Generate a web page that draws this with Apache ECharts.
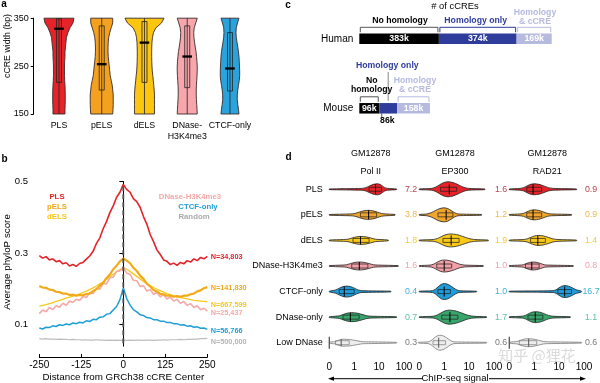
<!DOCTYPE html>
<html><head><meta charset="utf-8">
<script src="https://cdn.jsdelivr.net/npm/echarts@6/dist/echarts.min.js"></script>
<style>html,body{margin:0;padding:0;background:#fff}#chart{width:600px;height:383px}</style>
</head><body><div id="chart"></div>
<script>
// ---------- Panel a: cCRE width violins ----------
const aCategories = ['PLS', 'pELS', 'dELS', 'DNase-\nH3K4me3', 'CTCF-only'];
const aTicks = [150, 250, 350];
const aLevels = [350,340,330,320,310,300,290,280,270,260,250,240,230,220,210,200,190,180,170,160,150];
const aDensityPLS   = [15,14,11,9,7.5,7,6.5,6,6,5.7,5.5,5.5,5.5,5.7,6,6.2,6.3,6.3,6.2,6,6];
const aDensityPELS  = [11,11,9.5,8,7,6.5,6.3,6.3,6.5,7,7.5,8,8.5,9.5,10.5,11,11.5,11.5,11.5,11.3,11];
const aDensityDELS  = [19.5,17,11.5,9,8,7.5,7.3,7.2,7.2,7.3,7.5,7.8,8.3,8.8,9.3,9.7,10,10,10,10,10];
const aDensityDNase = [10,8.5,7,6.5,6.7,7.3,8,8.8,9.3,9.7,10,10,9.8,9.5,9.2,9,9,9.2,9.5,9.8,10];
const aDensityCTCF  = [9,7.5,6.3,6,6.3,7,7.8,8.5,9,9.3,9.5,9.7,9.7,9.3,8.5,7.8,7.3,7.3,7.8,8.5,9];
const aBoxLow  = [216, 200, 216, 205, 198];
const aBoxHigh = [349, 334, 343, 334, 320];
const aMedian  = [328, 254, 299, 270, 245];

// ---------- Panel b: phyloP profiles ----------
const bTicksY = [0.1, 0.3, 0.5];
const bDistance = [-250,-240,-230,-220,-210,-200,-190,-180,-170,-160,-150,-140,-130,-120,-110,-100,-90,-80,-70,-60,-50,-40,-30,-20,-10,0,10,20,30,40,50,60,70,80,90,100,110,120,130,140,150,160,170,180,190,200,210,220,230,240,250];
const bPLS = [0.293,0.286,0.290,0.281,0.284,0.276,0.279,0.270,0.273,0.264,0.268,0.263,0.271,0.274,0.283,0.292,0.305,0.327,0.342,0.368,0.388,0.413,0.432,0.456,0.470,0.492,0.478,0.470,0.452,0.444,0.428,0.402,0.381,0.352,0.332,0.309,0.296,0.281,0.277,0.268,0.272,0.266,0.274,0.270,0.279,0.275,0.284,0.279,0.288,0.284,0.291];
const bPELS = [0.208,0.204,0.203,0.198,0.197,0.192,0.191,0.187,0.187,0.183,0.184,0.181,0.183,0.182,0.186,0.187,0.194,0.199,0.209,0.217,0.230,0.240,0.255,0.265,0.277,0.285,0.279,0.272,0.259,0.250,0.237,0.228,0.215,0.207,0.197,0.193,0.186,0.185,0.181,0.181,0.178,0.180,0.178,0.181,0.181,0.185,0.187,0.193,0.196,0.202,0.205];
const bDELS = [0.152,0.154,0.156,0.159,0.162,0.165,0.168,0.171,0.174,0.177,0.180,0.183,0.186,0.190,0.194,0.198,0.203,0.208,0.214,0.220,0.227,0.234,0.241,0.248,0.254,0.258,0.255,0.249,0.242,0.235,0.228,0.221,0.215,0.209,0.204,0.199,0.195,0.191,0.187,0.184,0.181,0.178,0.176,0.174,0.172,0.170,0.168,0.167,0.166,0.165,0.164];
const bDNase = [0.131,0.141,0.136,0.148,0.142,0.153,0.149,0.160,0.154,0.166,0.162,0.171,0.168,0.179,0.176,0.190,0.187,0.202,0.199,0.216,0.214,0.231,0.233,0.249,0.250,0.260,0.244,0.241,0.224,0.223,0.207,0.209,0.194,0.198,0.185,0.190,0.178,0.184,0.172,0.177,0.166,0.171,0.160,0.165,0.154,0.159,0.148,0.153,0.142,0.146,0.138];
const bCTCF = [0.091,0.088,0.093,0.092,0.097,0.095,0.100,0.098,0.102,0.100,0.105,0.103,0.107,0.105,0.111,0.109,0.115,0.114,0.121,0.122,0.129,0.131,0.141,0.151,0.170,0.203,0.173,0.155,0.142,0.136,0.128,0.126,0.120,0.119,0.114,0.114,0.110,0.110,0.106,0.106,0.103,0.103,0.099,0.100,0.096,0.097,0.093,0.094,0.090,0.091,0.087];
const bRandom = [0.061,0.060,0.061,0.060,0.060,0.059,0.060,0.059,0.059,0.058,0.059,0.058,0.058,0.057,0.058,0.057,0.057,0.058,0.057,0.057,0.056,0.057,0.056,0.057,0.056,0.057,0.056,0.057,0.056,0.057,0.057,0.056,0.057,0.057,0.056,0.057,0.057,0.058,0.057,0.058,0.058,0.058,0.059,0.058,0.059,0.059,0.060,0.060,0.061,0.061,0.062];
const bCounts = ['N=34,803', 'N=141,830', 'N=667,599', 'N=25,437', 'N=56,766', 'N=500,000'];
const bNames = ['PLS', 'pELS', 'dELS', 'DNase-H3K4me3', 'CTCF-only', 'Random'];

// ---------- Panel c: homology bars (thousands) ----------
const cSpecies = ['Human', 'Mouse'];
const cNoHomology = [383, 96];
const cHomologyOnly = [374, 86];
const cHomologyCCRE = [169, 158];

// ---------- Panel d: ChIP-seq signal violins (log10 units; "0" drawn at -1) ----------
const dRows = ['PLS', 'pELS', 'dELS', 'DNase-H3K4me3', 'CTCF-only', 'DNase-only', 'Low DNase'];
const dAssays = ['Pol II', 'EP300', 'RAD21'];
const dCell = 'GM12878';
const dTickLabels = ['0', '1', '10', '100'];
const dPolMedian   = [7.2, 3.8, 1.8, 1.6, 0.4, 0.7, 0.3];
const dEP300Median = [1.6, 1.2, 1.9, 1.0, 1.0, 1.7, 0.6];
const dRAD21Median = [0.9, 0.9, 1.4, 0.8, 16.7, 1.1, 0.6];
// [tail start, body start, mode, body end, tail end, peak density, zero spike]
const dPolShape = [[-1,0.31,0.93,1.33,1.7,5.5,0],[-1,-0.16,0.57,1.28,1.64,4.5,0],[-1,-0.43,0.28,1.04,1.37,4,0],[-1,-0.49,0.21,0.97,1.77,4,0],[-1,-0.89,-0.3,0.31,1.47,5.5,0],[-1,-0.76,-0.1,0.71,1.7,4.5,0],[-1,-0.89,-0.44,0.57,1.7,3.5,6]];
const dEP300Shape = [[-1,-0.5,0.15,0.96,1.63,7.5,0],[-1,-0.7,0.0,0.56,1.5,7,0],[-1,-0.44,0.25,1.23,1.77,6.5,0],[-1,-0.57,0.0,0.83,1.57,6,0],[-1,-0.47,0.0,0.6,1.3,8,0],[-1,-0.44,0.2,1.16,1.7,7,0],[-1.03,-0.64,-0.17,0.39,1.7,7.5,0]];
const dRAD21Shape = [[-1,-0.57,0.0,0.76,1.7,5.5,0],[-1,-0.57,0.0,0.7,1.5,5,0],[-1,-0.44,0.17,0.96,1.7,5,0],[-1,-0.57,-0.05,0.57,1.57,4,0],[-1,0.76,1.23,1.84,1.9,6,0],[-1,-0.5,0.05,0.76,1.45,5.5,0],[-1,-0.84,-0.24,0.57,1.9,4,6]];
const dPolBox   = [[0.6,1.1],[0.25,0.9],[-0.05,0.6],[-0.1,0.55],[-0.6,0.0],[-0.45,0.2],[-0.75,-0.2]];
const dEP300Box = [[-0.15,0.5],[-0.25,0.35],[-0.05,0.6],[-0.3,0.3],[-0.25,0.25],[-0.1,0.55],[-0.45,0.05]];
const dRAD21Box = [[-0.3,0.3],[-0.3,0.3],[-0.15,0.45],[-0.35,0.2],[0.95,1.5],[-0.25,0.35],[-0.6,0.1]];

// ---------- styles ----------
const FONT = "'Liberation Sans', Arial, Helvetica, sans-serif";
const aColors = ['#e52329', '#f4a11f', '#fcc50f', '#f7a6ac', '#2aa3dd'];
const bColors = ['#e3242b', '#f2a91a', '#f7c81c', '#f2a9a8', '#1f9fd6', '#bdbdbd'];
const cColors = ['#000000', '#2e3c9c', '#b6badf'];
const dFill = ['#e52329', '#f0a52e', '#f8c81a', '#f0a0a6', '#1f9bd8', '#38a66c', '#eeeeee'];
const dText = ['#b9434c', '#efb650', '#f2c93d', '#eda3ab', '#3db0d8', '#5fc2a5', '#7a7a7a'];

const aWidths = [aDensityPLS, aDensityPELS, aDensityDELS, aDensityDNase, aDensityCTCF];
const dMedians = [dPolMedian, dEP300Median, dRAD21Median];
const dShapes = [dPolShape, dEP300Shape, dRAD21Shape];
const dBoxes = [dPolBox, dEP300Box, dRAD21Box];

function renderA(params, api) {
  const i = params.dataIndex;
  const prof = aWidths[i];
  const band = api.coord([1, 250])[0] - api.coord([0, 250])[0];
  const k = band / 42.75;
  const R = [], L = [];
  for (let j = 0; j < aLevels.length; j++) {
    const p = api.coord([i, aLevels[j]]);
    R.push([p[0] + prof[j] * k, p[1]]);
    L.unshift([p[0] - prof[j] * k, p[1]]);
  }
  const cx = api.coord([i, 250])[0];
  const top = api.coord([i, aLevels[0]])[1];
  const bot = api.coord([i, aLevels[aLevels.length - 1]])[1];
  const bh = api.coord([i, aBoxHigh[i]])[1];
  const bl = api.coord([i, aBoxLow[i]])[1];
  const md = api.coord([i, aMedian[i]])[1];
  return {type: 'group', children: [
    {type: 'polygon', shape: {points: R.concat(L)}, style: {fill: aColors[i], stroke: '#3b2a2a', lineWidth: 0.9}},
    {type: 'line', shape: {x1: cx, y1: top, x2: cx, y2: bot}, style: {stroke: '#222', lineWidth: 0.8}},
    {type: 'rect', shape: {x: cx - 2.5, y: bh, width: 5, height: bl - bh}, style: {fill: 'none', stroke: '#222', lineWidth: 0.8}},
    {type: 'line', shape: {x1: cx - 4.8, y1: md, x2: cx + 4.8, y2: md}, style: {stroke: '#000', lineWidth: 2.3}}
  ]};
}

function makeRenderD(col) {
  return function (params, api) {
    const r = params.dataIndex;
    const s = dShapes[col][r];
    const q = dBoxes[col][r];
    const val = dMedians[col][r];
    const med = Math.log10(val);
    const X = v => api.coord([v, r])[0];
    const yc = api.coord([0, r])[1];
    const h = s[5];
    const lo = s[1], pk = s[2], hi = s[3];
    const xs = [s[0], lo, lo + (pk - lo) * 0.25, lo + (pk - lo) * 0.5, lo + (pk - lo) * 0.75, pk,
                pk + (hi - pk) * 0.25, pk + (hi - pk) * 0.5, pk + (hi - pk) * 0.75, hi, s[4]];
    const hs = [0.35, 0.9, 0.3 * h, 0.62 * h, 0.9 * h, h, 0.9 * h, 0.62 * h, 0.3 * h, 0.9, 0.35];
    const top = [], bot = [];
    for (let j = 0; j < xs.length; j++) {
      const x = X(xs[j]);
      top.push([x, yc - hs[j]]);
      bot.unshift([x, yc + hs[j]]);
    }
    const low = r === dRows.length - 1;
    const stroke = low ? '#777' : '#1e1e1e';
    const children = [
      {type: 'polygon', shape: {points: top.concat(bot), smooth: 0.25}, style: {fill: dFill[r], stroke: stroke, lineWidth: 0.8}},
      {type: 'rect', shape: {x: X(q[0]), y: yc - 2, width: X(q[1]) - X(q[0]), height: 4}, style: {fill: 'none', stroke: stroke, lineWidth: 0.7}},
      {type: 'line', shape: {x1: X(med), y1: yc - Math.min(h, 5), x2: X(med), y2: yc + Math.min(h, 5)}, style: {stroke: low ? '#555' : '#000', lineWidth: 1}},
      {type: 'text', x: X(2) + 7, y: yc, style: {text: val.toFixed(1), fill: dText[r], align: 'center', verticalAlign: 'middle', fontSize: 8.8, fontFamily: FONT}}
    ];
    if (s[6] > 0) {
      children.push({type: 'line', shape: {x1: X(-1), y1: yc - s[6], x2: X(-1), y2: yc + s[6]}, style: {stroke: '#555', lineWidth: 1.3}});
    }
    return {type: 'group', children: children};
  };
}

const cBracketData = [[0, 0, 383], [0, 383, 757], [0, 757, 926], [1, 0, 96], [1, 182, 340]];
const cBracketStyle = ['#555', cColors[1], cColors[2], '#555', cColors[2]];
function renderBrackets(params, api) {
  const d = cBracketData[params.dataIndex];
  const a = api.coord([d[1], d[0]]);
  const b = api.coord([d[2], d[0]]);
  const barTop = a[1] - 5.5;
  const y1 = barTop - 6, y2 = barTop - 1;
  const x1 = a[0] + 1, x2 = b[0] - 1;
  const ch = [{type: 'polyline', shape: {points: [[x1, y2], [x1, y1], [x2, y1], [x2, y2]]}, style: {stroke: cBracketStyle[params.dataIndex], lineWidth: 1, fill: 'none'}}];
  if (params.dataIndex === 4) {
    const m = api.coord([cNoHomology[1] + cHomologyOnly[1] / 2, 1]);
    ch.push({type: 'line', shape: {x1: m[0], y1: 72, x2: m[0], y2: barTop - 2}, style: {stroke: '#888', lineWidth: 1}});
    const t = api.coord([108, 1]);
    ch.push({type: 'line', shape: {x1: t[0], y1: t[1] + 5, x2: t[0], y2: t[1] + 9}, style: {stroke: '#333', lineWidth: 0.8}});
  }
  return {type: 'group', children: ch};
}

function txt(x, y, text, size, color, weight, align, rot) {
  return {type: 'text', x: x, y: y, rotation: rot || 0, z: 100,
    style: {text: text, fontSize: size, fill: color, fontWeight: weight || 'normal', fontFamily: FONT,
      align: align || 'center', verticalAlign: 'middle'}};
}

const chart = echarts.init(document.getElementById('chart'), null, {renderer: 'canvas'});
const axisTxt = {color: '#000', fontFamily: FONT};
const option = {
  animation: false,
  backgroundColor: '#fff',
  textStyle: {fontFamily: FONT},
  grid: [
    {left: 37.6, top: 18.2, width: 213.75, height: 95.8},
    {left: 39.3, top: 181.5, width: 168, height: 167},
    {left: 359.3, top: 4.05, width: 207.8, height: 139},
    {left: 329.3, top: 176.5, width: 74.7, height: 179},
    {left: 419.3, top: 176.5, width: 74.7, height: 179},
    {left: 509.3, top: 176.5, width: 74.7, height: 179}
  ],
  xAxis: [
    {gridIndex: 0, type: 'category', data: aCategories, axisLine: {show: false}, axisTick: {show: false},
      axisLabel: Object.assign({fontSize: 8.8, margin: 6, lineHeight: 11, interval: 0}, axisTxt), splitLine: {show: false}},
    {gridIndex: 1, type: 'value', min: -250, max: 250, interval: 125, offset: 10.8,
      axisLine: {lineStyle: {color: '#000', width: 1}}, axisTick: {inside: true, length: 3, lineStyle: {color: '#000'}},
      axisLabel: Object.assign({fontSize: 10, margin: 3}, axisTxt), splitLine: {show: false},
      name: 'Distance from GRCh38 cCRE Center', nameLocation: 'middle', nameGap: 15,
      nameTextStyle: {fontSize: 9.8, color: '#000', fontFamily: FONT, verticalAlign: 'top'}},
    {gridIndex: 2, type: 'value', min: 0, max: 1000, show: false},
    ...[3, 4, 5].map(g => ({gridIndex: g, type: 'value', min: -1, max: 2, interval: 1, offset: 3.8,
      axisLine: {lineStyle: {color: '#000', width: 1}}, axisTick: {inside: true, length: 4, lineStyle: {color: '#000'}},
      axisLabel: Object.assign({fontSize: 10, margin: 3, formatter: v => dTickLabels[Math.round(v) + 1]}, axisTxt),
      splitLine: {show: false}}))
  ],
  yAxis: [
    {gridIndex: 0, type: 'value', min: 150, max: 350, offset: 3.9,
      axisLine: {show: true, lineStyle: {color: '#000', width: 1}},
      axisTick: {show: true, length: 3, customValues: aTicks, lineStyle: {color: '#000'}},
      axisLabel: Object.assign({fontSize: 9, margin: 5, customValues: aTicks}, axisTxt), splitLine: {show: false}},
    {gridIndex: 1, type: 'value', min: 0.04, max: 0.5, offset: 4.3,
      axisLine: {show: true, lineStyle: {color: '#000', width: 1}},
      axisTick: {show: true, length: 4, customValues: bTicksY, lineStyle: {color: '#000'}},
      axisLabel: Object.assign({fontSize: 9.5, margin: 7, customValues: bTicksY, formatter: v => v.toFixed(1)}, axisTxt), splitLine: {show: false}},
    {gridIndex: 2, type: 'category', data: cSpecies, inverse: true, axisLine: {show: false}, axisTick: {show: false},
      axisLabel: Object.assign({fontSize: 10, margin: 6}, axisTxt)},
    {gridIndex: 3, type: 'category', data: dRows, inverse: true, axisLine: {show: false}, axisTick: {show: false},
      axisLabel: Object.assign({fontSize: 9, margin: 6.6, interval: 0}, axisTxt)},
    {gridIndex: 4, type: 'category', data: dRows, inverse: true, show: false},
    {gridIndex: 5, type: 'category', data: dRows, inverse: true, show: false}
  ],
  series: [
    {type: 'custom', xAxisIndex: 0, yAxisIndex: 0, renderItem: renderA, clip: false,
      data: aCategories.map((c, i) => [i, 250]), encode: {x: 0, y: 1}},
    ...[bRandom, bCTCF, bDELS, bDNase, bPELS, bPLS].map((arr, idx) => {
      const order = [5, 4, 2, 3, 1, 0][idx];
      const widths = [1.2, 1.5, 1.3, 1.6, 2.2, 1.6];
      return {type: 'line', name: bNames[order], xAxisIndex: 1, yAxisIndex: 1, showSymbol: false, symbol: 'none',
        data: bDistance.map((x, i) => [x, arr[i]]), lineStyle: {color: bColors[order], width: widths[idx]}, z: 2 + idx};
    }),
    {type: 'line', xAxisIndex: 1, yAxisIndex: 1, showSymbol: false, symbol: 'none', z: 20,
      data: [[0, 0.048], [0, 0.485]], lineStyle: {color: '#4a4a4a', width: 1.8, type: [5, 3]}},
    {type: 'bar', name: 'No homology', xAxisIndex: 2, yAxisIndex: 2, stack: 'c', barWidth: 10.5,
      data: cNoHomology, itemStyle: {color: cColors[0]},
      label: {show: true, position: 'inside', color: '#fff', fontWeight: 'bold', fontSize: 8.8, fontFamily: FONT, formatter: '{c}k'}},
    {type: 'bar', name: 'Homology only', xAxisIndex: 2, yAxisIndex: 2, stack: 'c', barWidth: 10.5,
      data: [{value: cHomologyOnly[0]}, {value: cHomologyOnly[1], label: {show: false}}], itemStyle: {color: cColors[1]},
      label: {show: true, position: 'inside', color: '#fff', fontWeight: 'bold', fontSize: 8.8, fontFamily: FONT, formatter: '{c}k'}},
    {type: 'bar', name: 'Homology & cCRE', xAxisIndex: 2, yAxisIndex: 2, stack: 'c', barWidth: 10.5,
      data: cHomologyCCRE, itemStyle: {color: cColors[2]},
      label: {show: true, position: 'inside', color: '#fff', fontWeight: 'bold', fontSize: 8.8, fontFamily: FONT, formatter: '{c}k'}},
    {type: 'custom', xAxisIndex: 2, yAxisIndex: 2, renderItem: renderBrackets, clip: false,
      data: cBracketData.map(d => [d[1], d[0]]), encode: {x: 0, y: 1}},
    ...[0, 1, 2].map(col => ({type: 'custom', xAxisIndex: 3 + col, yAxisIndex: 3 + col, clip: false,
      renderItem: makeRenderD(col), data: dRows.map((r, i) => [0, i]), encode: {x: 0, y: 1}}))
  ],
  graphic: {elements: [
    txt(4, 4, 'a', 10, '#000', 'bold'),
    txt(4.5, 159.5, 'b', 10, '#000', 'bold'),
    txt(288, 5, 'c', 10, '#000', 'bold'),
    txt(288.5, 157.5, 'd', 10, '#000', 'bold'),
    txt(8, 46, 'cCRE width (bp)', 8.8, '#000', 'normal', 'center', Math.PI / 2),
    txt(7, 262, 'Average phyloP score', 9.8, '#000', 'normal', 'center', Math.PI / 2),
    txt(57, 196.7, bNames[0], 7.8, bColors[0], 'bold'),
    txt(57, 206.7, bNames[1], 7.8, bColors[1], 'bold'),
    txt(57, 216.7, bNames[2], 7.8, bColors[2], 'bold'),
    txt(190, 196.7, bNames[3], 7.8, bColors[3], 'bold'),
    txt(198, 206.7, bNames[4], 7.8, bColors[4], 'bold'),
    txt(194, 216.7, bNames[5], 7.8, '#aaaaaa', 'bold'),
    txt(210.7, 257.3, bCounts[0], 7.3, bColors[0], 'bold', 'left'),
    txt(210.7, 288.3, bCounts[1], 7.3, bColors[1], 'bold', 'left'),
    txt(210.7, 305, bCounts[2], 7.3, bColors[2], 'bold', 'left'),
    txt(210.7, 313.3, bCounts[3], 7.3, bColors[3], 'bold', 'left'),
    txt(210.7, 331, bCounts[4], 7.3, bColors[4], 'bold', 'left'),
    txt(210.7, 341.7, bCounts[5], 7.3, '#b5b5b5', 'bold', 'left'),
    txt(455, 6, '# of cCREs', 9.4, '#000'),
    txt(400, 21, 'No homology', 8.7, '#000', 'bold'),
    txt(475.7, 21, 'Homology only', 8.7, cColors[1], 'bold'),
    txt(535, 12.3, 'Homology', 8.7, cColors[2], 'bold'),
    txt(535, 21.7, '& cCRE', 8.7, cColors[2], 'bold'),
    txt(387.3, 66, 'Homology only', 8.7, cColors[1], 'bold'),
    txt(371.7, 81, 'No', 8.7, '#000', 'bold'),
    txt(371.7, 90, 'homology', 8.7, '#000', 'bold'),
    txt(415, 81, 'Homology', 8.7, cColors[2], 'bold'),
    txt(415, 90, '& cCRE', 8.7, cColors[2], 'bold'),
    txt(387.3, 120.7, cHomologyOnly[1] + 'k', 8.7, '#000', 'bold'),
    txt(370.7, 154, dCell, 9, '#000'),
    txt(455, 154, dCell, 9, '#000'),
    txt(547.3, 154, dCell, 9, '#000'),
    txt(370.7, 171.7, dAssays[0], 9, '#000'),
    txt(455, 171.7, dAssays[1], 9, '#000'),
    txt(547.3, 171.7, dAssays[2], 9, '#000'),
    txt(455, 378.7, 'ChIP-seq signal', 9.5, '#000'),
    {type: 'line', shape: {x1: 331, y1: 378.7, x2: 422, y2: 378.7}, style: {stroke: '#000', lineWidth: 1}},
    {type: 'line', shape: {x1: 489, y1: 378.7, x2: 583, y2: 378.7}, style: {stroke: '#000', lineWidth: 1}},
    {type: 'polygon', shape: {points: [[328, 378.7], [334, 376.6], [334, 380.8]]}, style: {fill: '#000'}},
    {type: 'polygon', shape: {points: [[586, 378.7], [580, 376.6], [580, 380.8]]}, style: {fill: '#000'}},
    {type: 'text', x: 537, y: 355, z: 200, style: {text: '知乎 @狸花', fontSize: 15, fill: 'rgba(150,150,150,0.35)',
      fontFamily: "'Noto Sans CJK SC', sans-serif", align: 'center', verticalAlign: 'middle'}}
  ]}
};
chart.setOption(option);
</script></body></html>
